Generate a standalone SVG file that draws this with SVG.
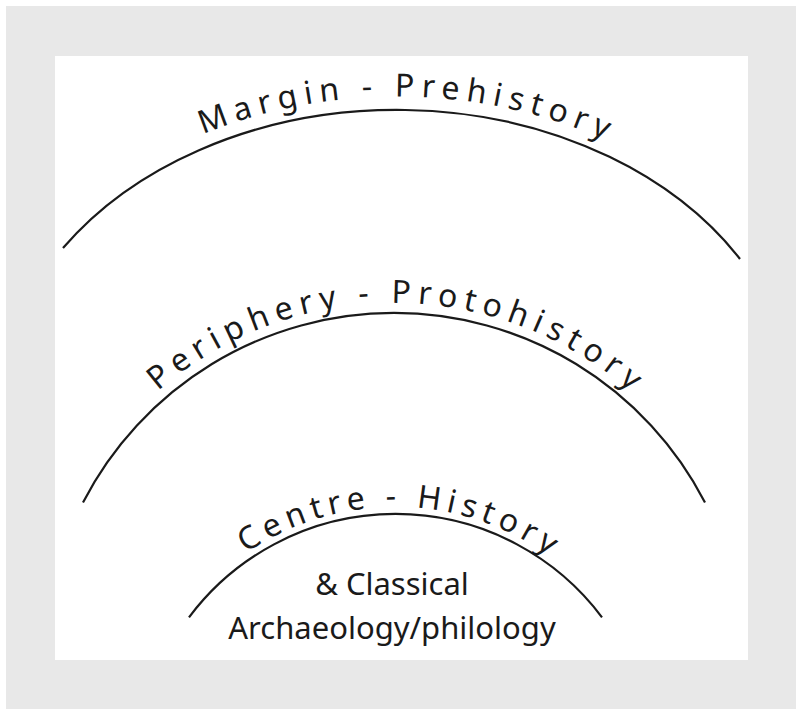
<svg xmlns="http://www.w3.org/2000/svg" xmlns:xlink="http://www.w3.org/1999/xlink" width="800" height="711" viewBox="0 0 800 711">
  <style>
    .arc { fill: none; stroke: #1a1a1a; stroke-width: 2.2; }
    .arctext { font-family: "Noto Sans", "Open Sans", sans-serif; font-size: 32px; fill: #1a1a1a; }
    .label { font-family: "Noto Sans", "Open Sans", sans-serif; font-size: 31px; fill: #1a1a1a; text-anchor: middle; }
  </style>
  <defs>
    <path id="p1" d="M203,134.2 A414,321 0 0 1 770,277.7"/>
    <path id="p2" d="M158,391.1 A360,360 0 0 1 734,544.7"/>
    <path id="p3" d="M246,553.2 A265,265 0 0 1 645.5,684"/>
  </defs>
  <rect x="6" y="6" width="790" height="703" fill="#e8e8e8"/>
  <rect x="55" y="56" width="693" height="604" fill="#ffffff"/>
  <g id="margin">
    <path class="arc" d="M63,248 A400,307 0 0 1 740,259"/>
    <text class="arctext" letter-spacing="6.9"><textPath xlink:href="#p1" href="#p1">Margin - Prehistory</textPath></text>
  </g>
  <g id="periphery">
    <path class="arc" d="M83,502.4 A350,350 0 0 1 705,502.4"/>
    <text class="arctext" letter-spacing="6.8"><textPath xlink:href="#p2" href="#p2">Periphery - Protohistory</textPath></text>
  </g>
  <g id="centre">
    <path class="arc" d="M189,617.3 A258,258 0 0 1 602,617.3"/>
    <text class="arctext" letter-spacing="5.8"><textPath xlink:href="#p3" href="#p3">Centre - History</textPath></text>
    <text class="label" x="392" y="595">&amp; Classical</text>
    <text class="label" x="392" y="639">Archaeology/philology</text>
  </g>
</svg>
